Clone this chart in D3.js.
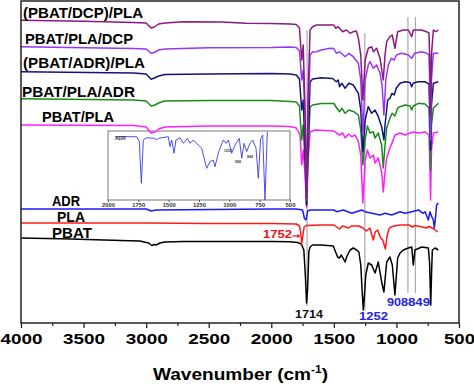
<!DOCTYPE html>
<html><head><meta charset="utf-8">
<script src="https://cdn.jsdelivr.net/npm/d3@7"></script>
<style>
html,body{margin:0;padding:0;background:#fff;}
svg{display:block;font-family:"Liberation Sans",Arial,sans-serif;}
</style></head>
<body><svg id="c" width="474" height="384"></svg>
<script>
// ---- data: [wavenumber (cm-1), transmittance (a.u., offset)] ----
const wnTicks = [4000,3500,3000,2500,2000,1500,1000,500];
const wnMinor = [3750,3250,2750,2250,1750,1250,750];
const insetTicks = [2000,1750,1500,1250,1000,750,500];
const markerLines = [1714,1252,908,849];

const pbatDcpPla = [[4000,302.7],[3500,301.8],[3100,300.5],[3000,300],[2960,295],[2935,296],[2900,299],[2850,300],[2700,301.3],[2400,301],[2200,299.7],[2000,299.5],[1850,299],[1800,298.5],[1775,295],[1757,263],[1745,278],[1730,213],[1718,125],[1705,233],[1690,293],[1670,296.3],[1640,298],[1500,298],[1485,294.7],[1465,296.3],[1430,291.3],[1400,293],[1370,289.7],[1345,291.3],[1320,292],[1304,284.7],[1285,268],[1268,223],[1250,263],[1225,274.7],[1198,276.3],[1184,271.3],[1158,274.7],[1131,264.7],[1105,243],[1091,268],[1078,281.3],[1052,286.3],[1033,288],[1012,274.7],[990,291.3],[945,293],[905,293],[878,286.3],[865,293],[800,293],[760,291.3],[740,290],[732,258],[727,208],[720,268],[705,293],[685,291.3],[665,293]];
const pbatPlaDcp = [[4000,276.3],[3100,274.5],[3000,274],[2960,269.7],[2935,270.5],[2900,273],[2850,274],[2500,275.3],[2000,275.5],[1850,276],[1800,275.5],[1775,272],[1757,243],[1745,253],[1730,203],[1718,123],[1705,213],[1690,268],[1670,271],[1640,271.3],[1600,273],[1530,274.7],[1500,274.5],[1480,269.7],[1455,271.3],[1410,266.3],[1380,269.7],[1345,266.3],[1304,259.7],[1285,243],[1268,188],[1250,243],[1225,258],[1211,261.3],[1184,254.7],[1158,258],[1131,249.7],[1115,238],[1100,208],[1085,243],[1065,258],[1040,264.7],[1018,263],[1000,268],[960,269.7],[931,269],[905,268],[878,264.7],[855,269.7],[800,271.3],[760,270],[740,268],[732,233],[727,183],[720,243],[705,269.7],[665,269.7]];
const pbatAdrPla = [[4000,251.3],[3100,250],[3000,249],[2960,243.7],[2935,245],[2900,247],[2850,248.5],[2500,249],[2000,249.5],[1850,249],[1800,248],[1775,244],[1757,213],[1745,223],[1730,173],[1718,118],[1705,183],[1690,241],[1670,244],[1600,245.3],[1510,244.5],[1480,241.3],[1465,243],[1455,236.3],[1435,239.7],[1410,234.7],[1380,239.7],[1345,238],[1304,229.7],[1285,213],[1268,171],[1250,203],[1225,216.3],[1198,209.7],[1171,213],[1145,206.3],[1118,196.3],[1100,183],[1091,198],[1070,223],[1052,224.7],[1035,229.7],[1018,228],[1000,235],[971,239.7],[931,241.3],[891,240.5],[878,236.3],[865,240],[825,241.3],[771,241.3],[740,239],[732,203],[727,173],[720,218],[705,239.7],[665,241.3]];
const pbatPlaAdr = [[4000,224.3],[3100,223],[3000,222],[2960,217],[2930,218],[2900,220],[2850,222],[2500,222.5],[2000,222.5],[1850,221.5],[1800,221],[1775,217],[1757,183],[1745,198],[1730,158],[1718,118],[1705,173],[1690,216],[1670,218],[1600,219.5],[1500,219.5],[1477,215],[1455,211.3],[1435,214.7],[1410,209.7],[1380,213],[1340,211.3],[1304,208],[1285,193],[1268,158],[1250,183],[1232,197],[1211,190],[1184,191.3],[1171,185],[1145,190],[1118,178],[1105,155],[1091,178],[1078,195],[1052,204.7],[1035,209.7],[1012,207],[990,215],[971,216.3],[931,218],[891,217],[878,213],[865,217],[825,219.7],[771,219],[740,215],[732,183],[727,153],[720,198],[705,214.7],[665,219.7]];
const pbatPla = [[4000,198],[3100,197.5],[3000,196],[2960,190],[2930,191],[2900,194],[2850,196],[2500,197],[2000,197],[1850,196.5],[1800,195],[1770,188],[1757,158],[1745,173],[1730,148],[1718,116],[1705,163],[1690,191],[1650,193],[1500,192],[1480,190],[1455,188],[1430,190],[1410,185],[1380,189],[1357,186.3],[1330,188],[1304,181.3],[1285,168],[1268,120],[1250,163],[1232,173],[1211,165],[1184,168],[1171,160],[1145,165],[1118,151],[1105,131],[1091,151],[1078,165],[1052,175],[1035,180],[1012,188],[971,190],[931,188],[891,190],[865,191],[825,190],[771,191],[740,188],[732,153],[727,123],[720,173],[705,190],[665,191]];
const adr = [[4000,114],[3000,114],[2960,112],[2920,113],[2000,114],[1800,114],[1750,113],[1735,104.5],[1722,103],[1710,112],[1690,113],[1500,113],[1477,111.3],[1424,113],[1357,109.7],[1277,113],[1251,111.3],[1197,109.7],[1131,108],[1091,109.7],[1038,108],[971,111.3],[931,109.7],[878,111.3],[825,113],[785,109.7],[771,111.3],[745,103],[732,111.3],[718,106.3],[705,103],[697,95],[686,108],[679,118],[665,120]];
const pla = [[4000,100],[3000,100],[2500,99.5],[2000,99.5],[1800,99],[1775,97],[1765,91],[1757,79],[1748,87],[1738,96],[1720,97.5],[1600,98],[1500,98],[1455,94],[1430,97],[1382,95],[1360,97],[1300,97],[1268,95],[1240,92],[1212,95],[1185,83],[1170,91],[1150,93],[1130,86],[1110,83],[1088,74],[1075,87],[1060,94],[1045,96],[1000,97.5],[960,98],[900,98],[870,96],[850,97.5],[760,95],[740,96.5],[700,94],[670,91]];
const pbat = [[4000,85],[3600,84],[3200,82.5],[3050,82],[2980,80],[2955,77.5],[2935,78.5],[2920,78],[2890,80],[2850,81],[2700,81.5],[2300,81.5],[2000,81.5],[1850,81.3],[1790,80.5],[1760,79],[1740,73],[1728,48],[1718,20],[1710,33],[1700,71],[1690,76],[1670,78],[1600,78],[1550,77.5],[1505,77],[1470,66],[1455,65],[1440,68],[1410,61],[1395,67],[1370,73],[1345,75],[1318,73],[1300,71],[1285,58],[1272,28],[1265,13],[1258,23],[1245,48],[1225,60],[1198,58],[1171,50],[1145,61],[1118,41],[1100,31],[1078,61],[1052,66],[1033,58],[1012,28],[990,65],[971,70],[945,73],[905,75],[878,76],[865,58],[852,73],[798,76],[745,75],[735,60],[726,18],[718,55],[713,73],[691,75],[665,73]];
const adrInset = [[1942,63.3],[1764,63.3],[1742,58.3],[1725,16.7],[1709,60],[1681,62.3],[1613,61.7],[1599,60],[1585,61.7],[1503,63.3],[1489,53.3],[1475,60],[1456,46.7],[1440,60],[1407,62.3],[1379,56.7],[1346,61.7],[1324,56.7],[1297,60],[1256,55],[1228,51.7],[1187,31.7],[1159,38.3],[1132,40],[1118,33.3],[1091,46.7],[1077,51.7],[1050,60],[1027,56.7],[1008,60],[981,46.7],[953,55],[918,61.7],[898,41.7],[879,56.7],[857,48.3],[830,56.7],[808,60],[780,51.7],[761,21.7],[742,61.7],[725,65],[706,0],[687,68.3]];

const seriesOrder = [
  {name:"PBAT", data:pbat, color:"#000000"},
  {name:"PLA", data:pla, color:"#ff1a1a"},
  {name:"ADR", data:adr, color:"#1a1aff"},
  {name:"PBAT/PLA", data:pbatPla, color:"#ff1fff"},
  {name:"PBAT/PLA/ADR", data:pbatPlaAdr, color:"#1a8a1a"},
  {name:"(PBAT/ADR)/PLA", data:pbatAdrPla, color:"#12127f"},
  {name:"PBAT/PLA/DCP", data:pbatPlaDcp, color:"#9a35f5"},
  {name:"(PBAT/DCP)/PLA", data:pbatDcpPla, color:"#8a1a80"}
];

// ---- drawing ----
const svg = d3.select("#c");
const L=21, R=459, T=1, B=323;
const x = d3.scaleLinear().domain([4000,500]).range([L,R]);
const y = d3.scaleLinear().domain([0,322]).range([B,T]);
const line = d3.line().x(d=>x(d[0])).y(d=>y(d[1]));

// marker lines
const markTop = {1714:30, 1252:33, 908:17, 849:17};
const markBot = {1714:306, 1252:310, 908:293, 849:293};
svg.append("g").selectAll("line").data(markerLines).join("line")
  .attr("x1",d=>x(d)).attr("x2",d=>x(d))
  .attr("y1",d=>markTop[d]).attr("y2",d=>markBot[d])
  .attr("stroke","#9a9a9a").attr("stroke-width",1);

// inset
const ix = d3.scaleLinear().domain([2000,500]).range([108,290]);
const iy = d3.scaleLinear().domain([0,69]).range([200,131]);
const gi = svg.append("g");
gi.append("rect").attr("x",108).attr("y",131).attr("width",182).attr("height",69)
  .attr("fill","#fff").attr("stroke","#555").attr("stroke-width",0.8);
gi.append("path").datum(adrInset)
  .attr("d",d3.line().x(d=>ix(d[0])).y(d=>iy(d[1])))
  .attr("fill","none").attr("stroke","#3a3ae8").attr("stroke-width",0.9);
const iax = gi.append("g").attr("transform","translate(0,200)")
  .call(d3.axisBottom(ix).tickValues(insetTicks).tickSize(2).tickSizeOuter(0).tickFormat(d3.format("d")));
iax.select(".domain").remove();
iax.selectAll("line").attr("stroke","#555");
iax.selectAll("text").attr("y",7).attr("dy",0)
  .attr("font-size",5.5).attr("font-weight","bold").attr("fill","#333")
  .attr("textLength",d=>d>=1000?13:10).attr("lengthAdjust","spacingAndGlyphs");
gi.append("text").attr("x",115).attr("y",139.5).text("ADR")
  .attr("font-size",5).attr("font-weight","bold").attr("fill","#333");
[["1252",228,152],["908",238,163],["849",250,158]].forEach(a=>{
  gi.append("text").attr("x",a[1]).attr("y",a[2]).text(a[0])
    .attr("font-size",3.5).attr("font-weight","bold").attr("fill","#333").attr("text-anchor","middle");
});

// spectra
svg.append("g").selectAll("path").data(seriesOrder).join("path")
  .attr("d",d=>line(d.data)).attr("fill","none")
  .attr("stroke",d=>d.color).attr("stroke-width",1.5).attr("stroke-linejoin","round");

// frame
svg.append("rect").attr("x",L).attr("y",T).attr("width",R-L).attr("height",B-T)
  .attr("fill","none").attr("stroke","#222").attr("stroke-width",1.5);

// x axis
const ax = svg.append("g").attr("transform",`translate(0,${B})`)
  .call(d3.axisBottom(x).tickValues(wnTicks).tickSize(5).tickSizeOuter(0).tickFormat(d3.format("d")));
ax.select(".domain").remove();
ax.selectAll("line").attr("stroke","#222").attr("stroke-width",1.3);
ax.selectAll("text").attr("y",21).attr("dy",0)
  .attr("font-size",15).attr("font-weight","bold").attr("fill","#000")
  .attr("textLength",d=>d>=1000?42:31).attr("lengthAdjust","spacingAndGlyphs");
const axm = svg.append("g").attr("transform",`translate(0,${B})`)
  .call(d3.axisBottom(x).tickValues(wnMinor).tickSize(3).tickFormat(""));
axm.select(".domain").remove();
axm.selectAll("line").attr("stroke","#222").attr("stroke-width",1.2);

// axis title
const tt = svg.append("text").attr("x",240.5).attr("y",380).attr("text-anchor","middle")
  .attr("font-size",16).attr("font-weight","bold").attr("fill","#000");
tt.append("tspan").text("Wavenumber (cm");
tt.append("tspan").attr("dy",-7).attr("font-size",10).text("-1");
tt.append("tspan").attr("dy",7).text(")");
tt.attr("textLength",175).attr("lengthAdjust","spacingAndGlyphs");

// series labels
const labels = [
  {t:"(PBAT/DCP)/PLA", x:23, y:18, w:120},
  {t:"PBAT/PLA/DCP", x:25, y:44, w:108},
  {t:"(PBAT/ADR)/PLA", x:23, y:68, w:122},
  {t:"PBAT/PLA/ADR", x:22, y:97, w:113},
  {t:"PBAT/PLA", x:42, y:122, w:72},
  {t:"ADR", x:52, y:206, w:28},
  {t:"PLA", x:57, y:222, w:28},
  {t:"PBAT", x:52, y:238, w:40}
];
svg.append("g").selectAll("text").data(labels).join("text")
  .attr("x",d=>d.x).attr("y",d=>d.y).text(d=>d.t)
  .attr("font-size",14).attr("font-weight","bold").attr("fill","#000")
  .attr("textLength",d=>d.w).attr("lengthAdjust","spacingAndGlyphs");

// peak annotations
const notes = [
  {t:"1714", x:309, y:318, c:"#111", w:28},
  {t:"1252", x:373.5, y:320, c:"#2222ee", w:29},
  {t:"908", x:397.5, y:305.5, c:"#2222ee", w:21},
  {t:"849", x:419, y:305.5, c:"#2222ee", w:22},
  {t:"1752", x:277.5, y:238, c:"#ee1111", w:29}
];
svg.append("g").selectAll("text").data(notes).join("text")
  .attr("x",d=>d.x).attr("y",d=>d.y).attr("text-anchor","middle").text(d=>d.t)
  .attr("font-size",11).attr("font-weight","bold").attr("fill",d=>d.c)
  .attr("textLength",d=>d.w).attr("lengthAdjust","spacingAndGlyphs");
// small arrow to 1752 peak
svg.append("path").attr("d",`M${x(1752)-10},236 L${x(1752)-3},236`)
  .attr("stroke","#ee1111").attr("stroke-width",1.2).attr("fill","none");
svg.append("path").attr("d",`M${x(1752)-2},236 l-3,-2 l0,4 z`).attr("fill","#ee1111");
</script></body></html>
